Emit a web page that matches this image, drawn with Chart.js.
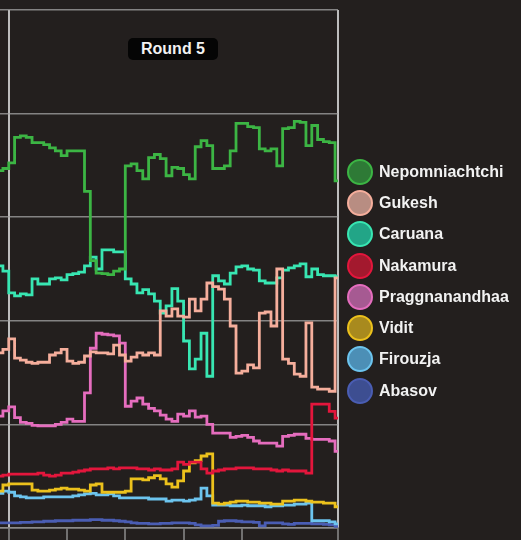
<!DOCTYPE html>
<html>
<head>
<meta charset="utf-8">
<script src="https://cdn.jsdelivr.net/npm/chart.js@4/dist/chart.umd.min.js"></script>
<style>
  html, body { margin: 0; padding: 0; background: #231f1e; }
  #wrap { position: relative; width: 521px; height: 540px; overflow: hidden; background: #231f1e; }
  #chart { position: absolute; left: 0; top: 0; }
  #round {
    position: absolute; left: 128px; top: 38px; width: 90px; height: 22px;
    background: #050505; border-radius: 5px; color: #f2f2f2;
    font: bold 16px "Liberation Sans", Arial, sans-serif;
    line-height: 22px; text-align: center;
  }
  #legend { position: absolute; left: 347px; top: 156px; }
  .item { display: flex; align-items: center; height: 31.3px; }
  .dot { width: 26px; height: 26px; box-sizing: border-box; border-radius: 50%; border: 2.5px solid; margin-right: 6px; }
  .name { color: #f2f2f2; font: bold 16px "Liberation Sans", Arial, sans-serif; }
</style>
</head>
<body>
<div id="wrap">
  <canvas id="chart" width="521" height="540"></canvas>
  <div id="round">Round 5</div>
  <div id="legend"></div>
</div>
<script>
// move numbers (x axis)
const moves = [-3, -1, 1, 3, 5, 7, 9, 11, 13, 15, 17, 19, 21, 23, 25, 27, 29, 31, 33, 35,
  37, 39, 41, 43, 45, 47, 49, 51, 53, 55, 57, 59, 61, 63, 65, 67, 69, 71, 73, 75,
  77, 79, 81, 83, 85, 87, 89, 91, 93, 95, 97, 99, 101, 103, 105, 107, 109, 111, 113];
const tickMoves = [0, 20, 40, 60, 80, 113];

const players = ['Nepomniachtchi', 'Gukesh', 'Caruana', 'Nakamura', 'Praggnanandhaa', 'Vidit', 'Firouzja', 'Abasov'];

// winning chances in %
const nepo = [69, 69.4, 70.5, 75.4, 75.7, 75.4, 74.4, 74.4, 74, 73.4,
  72.8, 71.9, 72.8, 72.8, 72.8, 65, 51.6, 49.2, 49.1, 48.9,
  49.6, 50, 69.9, 70.3, 69, 67.4, 71.5, 72.1, 71.3, 68,
  69.6, 69.4, 68.2, 67.4, 73.6, 74.8, 73.8, 69.4, 69.4, 69.9,
  72.8, 78.1, 78.1, 77.5, 77.3, 73.2, 72.8, 73.2, 69.9, 77.1,
  77.3, 78.5, 78.3, 73.8, 77.7, 75, 74.6, 74.4, 67];
const gukesh = [33.8, 34.5, 36.5, 32.8, 32.4, 32, 31.8, 32, 32, 33.4,
  33.8, 34.5, 32.2, 31.8, 32, 33.2, 34, 33.8, 33.8, 33.6,
  35.3, 33.4, 32.2, 33, 33.8, 33.4, 33.8, 33.4, 41.9, 40.9,
  42.3, 40.9, 40.7, 44.2, 41.9, 44.2, 47.3, 46.6, 46.1, 44.2,
  39, 29.9, 30.3, 31.5, 30.9, 41.5, 41.7, 39, 50, 32.6,
  31.8, 29.7, 29.3, 39.6, 27.2, 26.8, 26.8, 26.4, 48.3];
const caruana = [50.6, 49.6, 45.4, 44.8, 45.2, 45, 48.1, 47.1, 47.1, 48.1,
  48.3, 47.9, 48.9, 49.1, 49.4, 50.6, 52.3, 50, 53.7, 53.7,
  53.3, 53.3, 48.1, 47.1, 45.4, 46, 45.2, 43.8, 41.5, 42.9,
  46.2, 43.8, 36.1, 30.7, 32.6, 37.6, 29.3, 48.7, 47.7, 47.1,
  49.2, 50.4, 50.6, 50, 49.8, 47.7, 47.3, 47.3, 48.3, 49.8,
  50.2, 50.6, 51, 48.5, 50, 48.9, 48.7, 48.7, 48.5];
const nakamura = [10, 10.2, 10.4, 10.4, 10.4, 10.4, 10.4, 10.6, 10.2, 10,
  10.2, 10.6, 10.6, 10.8, 11, 11.2, 11.4, 11.4, 11.4, 11.6,
  11.4, 11.6, 11.6, 11.6, 11.4, 11.4, 11.2, 11.4, 11.2, 11.2,
  11.4, 12.7, 12.3, 12.7, 12.7, 11.4, 10.6, 11, 11.2, 11.4,
  11.4, 11.6, 11.6, 11.6, 11.4, 11.4, 11.4, 11.2, 11, 11.2,
  11, 11, 11, 10.6, 23.9, 23.9, 23.9, 22.5, 21.2];
const pragg = [21.6, 22.6, 23.4, 21.3, 20.4, 20.2, 19.8, 19.7, 19.7, 19.7,
  20, 20.4, 21, 20.6, 20.6, 26.1, 34.7, 37.6, 37.4, 37.3,
  37.1, 35.7, 23.5, 24.5, 25.1, 23.9, 23.1, 22.6, 21.8, 21,
  20.6, 22, 21.6, 22.6, 21.4, 21.6, 20, 18.3, 18.3, 18.3,
  17.5, 17.7, 17.9, 17.5, 16.8, 16.4, 16.4, 16.4, 15.8, 17.7,
  17.9, 18.1, 18.1, 17.3, 17.1, 17.1, 17.1, 16.8, 14.8];
const vidit = [7.1, 8.3, 8.5, 8.5, 8.5, 8.5, 7.3, 7.1, 7.1, 7.3,
  7.5, 7.7, 7.5, 7.5, 7.3, 7.1, 8.3, 8.5, 6.9, 6.9,
  6.9, 6.9, 7.1, 9.5, 9.5, 9.3, 9.7, 10.1, 9.5, 8.5,
  7.9, 9.1, 11, 12.6, 13, 13.9, 14.3, 4.8, 4.6, 4.8,
  5, 5.2, 5.2, 5, 5, 4.8, 4.8, 4.6, 4.6, 5.2,
  5.2, 5.4, 5.4, 5.2, 5, 5, 4.8, 4.8, 4.1];
const firouzja = [6.7, 7.1, 6.9, 6.2, 6, 5.8, 5.8, 5.8, 6, 6,
  6, 6, 6, 6.2, 6.4, 6.6, 6.7, 6.4, 6.4, 6.6,
  6.2, 5.8, 5.8, 5.8, 5.8, 5.8, 5.6, 5.6, 5.6, 5.2,
  5.4, 5.4, 5.2, 5.4, 5.6, 7.7, 6.2, 4.4, 4.4, 4.4,
  4.3, 4.3, 4.4, 4.3, 4.3, 4.3, 4.1, 4.3, 4.3, 4.4,
  4.4, 4.6, 4.6, 4.8, 1.4, 1.4, 1.4, 1.2, 0.8];
const abasov = [1, 1, 1, 1, 1.1, 1.1, 1.2, 1.2, 1.3, 1.3,
  1.4, 1.4, 1.4, 1.5, 1.5, 1.5, 1.6, 1.6, 1.5, 1.5,
  1.4, 1.3, 1.2, 1, 0.9, 0.9, 0.8, 0.8, 0.9, 0.9,
  1, 1, 1, 0.9, 0.6, 0.4, 0.4, 0.5, 1.3, 1.4,
  1.4, 1.3, 1.2, 1.2, 1.1, 0.4, 1, 1, 1, 0.8,
  0.7, 0.9, 0.9, 0.9, 0.8, 0.8, 0.7, 0.6, 0.3];

const lineColors = ['#3cb544', '#f5ae9c', '#38e6b2', '#e3163c', '#e56dbe', '#ecc11c', '#6cc4ee', '#4a5db3'];
const dotColors = ['#2e7a36', '#b88d82', '#22a587', '#a3192e', '#a65a92', '#a88a1e', '#4c8fb6', '#3d4e91'];

const series = [nepo, gukesh, caruana, nakamura, pragg, vidit, firouzja, abasov];

const ctx = document.getElementById('chart').getContext('2d');
const chart = new Chart(ctx, {
  type: 'line',
  data: {
    labels: moves,
    datasets: series.map((vals, i) => ({
      label: players[i],
      data: vals,
      borderColor: lineColors[i],
      backgroundColor: dotColors[i],
      borderWidth: 2.8,
      pointRadius: 0,
      stepped: 'middle',
      fill: false
    }))
  },
  options: {
    responsive: false,
    animation: false,
    layout: { padding: { top: 10, right: 183, left: 0, bottom: 0 } },
    plugins: {
      legend: { display: false },
      tooltip: { enabled: false }
    },
    scales: {
      x: {
        type: 'linear',
        min: -3,
        max: 113,
        afterBuildTicks: scale => { scale.ticks = tickMoves.map(v => ({ value: v })); },
        ticks: { display: false },
        grid: {
          color: c => (c.tick && (c.tick.value === 0 || c.tick.value === 113)) ? '#bdbdbd' : 'rgba(0,0,0,0)',
          lineWidth: 2,
          drawTicks: true,
          tickLength: 12,
          tickColor: '#8c8c8c',
          tickWidth: 1.5
        },
        border: { display: true, color: '#8c8c8c', width: 1.5 }
      },
      y: {
        min: 0,
        max: 100,
        ticks: { display: false, stepSize: 20 },
        grid: { color: 'rgba(165,165,165,0.75)', lineWidth: 1.5, drawTicks: false },
        border: { display: false }
      }
    }
  }
});

// legend built from the chart's datasets
const legend = document.getElementById('legend');
chart.data.datasets.forEach(ds => {
  const row = document.createElement('div');
  row.className = 'item';
  const dot = document.createElement('span');
  dot.className = 'dot';
  dot.style.background = ds.backgroundColor;
  dot.style.borderColor = ds.borderColor;
  const name = document.createElement('span');
  name.className = 'name';
  name.textContent = ds.label;
  row.appendChild(dot);
  row.appendChild(name);
  legend.appendChild(row);
});
</script>
</body>
</html>
